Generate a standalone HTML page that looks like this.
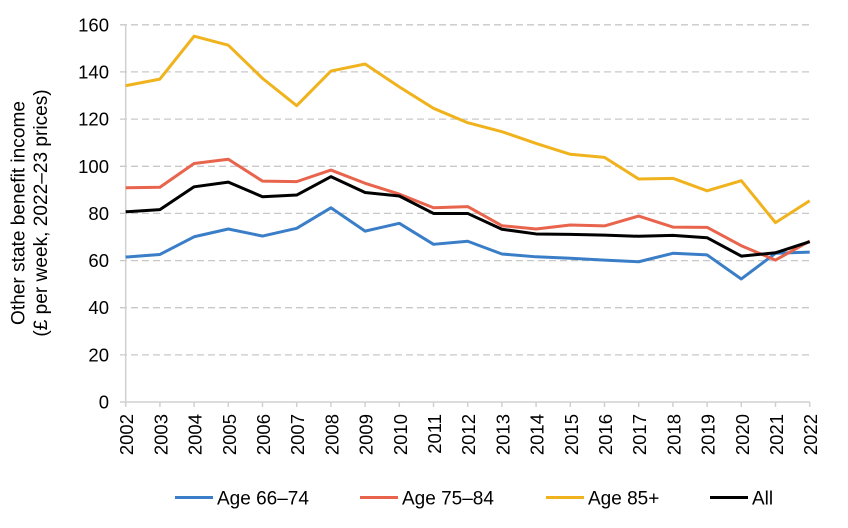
<!DOCTYPE html>
<html><head><meta charset="utf-8"><style>
html,body{margin:0;padding:0;background:#fff}
svg{display:block}
text{font-family:"Liberation Sans",Arial,sans-serif;fill:#000}
</style></head><body>
<svg width="848" height="528" viewBox="0 0 848 528" xmlns="http://www.w3.org/2000/svg">
<rect width="848" height="528" fill="#fff"/>
<!-- gridlines -->
<g stroke="#c8c8c8" stroke-width="1.3" stroke-dasharray="7,4">
<line x1="120" y1="24.8" x2="809" y2="24.8"/>
<line x1="120" y1="71.9" x2="809" y2="71.9"/>
<line x1="120" y1="119.1" x2="809" y2="119.1"/>
<line x1="120" y1="166.3" x2="809" y2="166.3"/>
<line x1="120" y1="213.4" x2="809" y2="213.4"/>
<line x1="120" y1="260.6" x2="809" y2="260.6"/>
<line x1="120" y1="307.7" x2="809" y2="307.7"/>
<line x1="120" y1="354.9" x2="809" y2="354.9"/>
</g>
<!-- axes -->
<g stroke="#d0d0d0" stroke-width="1.5">
<line x1="125.7" y1="24" x2="125.7" y2="402"/>
<line x1="120" y1="402" x2="810" y2="402"/>
<line x1="125.7" y1="402" x2="125.7" y2="407"/>
<line x1="159.9" y1="402" x2="159.9" y2="407"/>
<line x1="194.1" y1="402" x2="194.1" y2="407"/>
<line x1="228.3" y1="402" x2="228.3" y2="407"/>
<line x1="262.5" y1="402" x2="262.5" y2="407"/>
<line x1="296.7" y1="402" x2="296.7" y2="407"/>
<line x1="330.9" y1="402" x2="330.9" y2="407"/>
<line x1="365.1" y1="402" x2="365.1" y2="407"/>
<line x1="399.3" y1="402" x2="399.3" y2="407"/>
<line x1="433.5" y1="402" x2="433.5" y2="407"/>
<line x1="467.7" y1="402" x2="467.7" y2="407"/>
<line x1="501.9" y1="402" x2="501.9" y2="407"/>
<line x1="536.1" y1="402" x2="536.1" y2="407"/>
<line x1="570.3" y1="402" x2="570.3" y2="407"/>
<line x1="604.5" y1="402" x2="604.5" y2="407"/>
<line x1="638.7" y1="402" x2="638.7" y2="407"/>
<line x1="672.9" y1="402" x2="672.9" y2="407"/>
<line x1="707.1" y1="402" x2="707.1" y2="407"/>
<line x1="741.3" y1="402" x2="741.3" y2="407"/>
<line x1="775.5" y1="402" x2="775.5" y2="407"/>
<line x1="809.7" y1="402" x2="809.7" y2="407"/>
</g>
<!-- y tick labels -->
<g font-size="18.5" text-anchor="end">
<text x="109" y="31.3">160</text>
<text x="109" y="78.4">140</text>
<text x="109" y="125.6">120</text>
<text x="109" y="172.8">100</text>
<text x="109" y="219.9">80</text>
<text x="109" y="267.1">60</text>
<text x="109" y="314.2">40</text>
<text x="109" y="361.4">20</text>
<text x="109" y="408.5">0</text>
</g>
<!-- x tick labels -->
<g font-size="18.5" text-anchor="end">
<text transform="translate(133.2,414) rotate(-90)">2002</text>
<text transform="translate(167.4,414) rotate(-90)">2003</text>
<text transform="translate(201.6,414) rotate(-90)">2004</text>
<text transform="translate(235.8,414) rotate(-90)">2005</text>
<text transform="translate(270,414) rotate(-90)">2006</text>
<text transform="translate(304.2,414) rotate(-90)">2007</text>
<text transform="translate(338.4,414) rotate(-90)">2008</text>
<text transform="translate(372.6,414) rotate(-90)">2009</text>
<text transform="translate(406.8,414) rotate(-90)">2010</text>
<text transform="translate(441,414) rotate(-90)">2011</text>
<text transform="translate(475.2,414) rotate(-90)">2012</text>
<text transform="translate(509.4,414) rotate(-90)">2013</text>
<text transform="translate(543.6,414) rotate(-90)">2014</text>
<text transform="translate(577.8,414) rotate(-90)">2015</text>
<text transform="translate(612,414) rotate(-90)">2016</text>
<text transform="translate(646.2,414) rotate(-90)">2017</text>
<text transform="translate(680.4,414) rotate(-90)">2018</text>
<text transform="translate(714.6,414) rotate(-90)">2019</text>
<text transform="translate(748.8,414) rotate(-90)">2020</text>
<text transform="translate(783,414) rotate(-90)">2021</text>
<text transform="translate(817.2,414) rotate(-90)">2022</text>
</g>
<!-- y axis title -->
<g font-size="19.1" text-anchor="middle">
<text transform="translate(24.5,213) rotate(-90)">Other state benefit income</text>
<text transform="translate(47,213) rotate(-90)">(£ per week, 2022–23 prices)</text>
</g>
<!-- series -->
<g transform="translate(125.7,402) scale(34.2,-2.357)" fill="none" stroke-linejoin="round">
<polyline vector-effect="non-scaling-stroke" stroke="#3a7ec8" stroke-width="3" points="0,61.5 1,62.6 2,70.1 3,73.4 4,70.4 5,73.7 6,82.4 7,72.5 8,75.8 9,66.9 10,68.2 11,62.8 12,61.6 13,61.0 14,60.2 15,59.5 16,63.1 17,62.4 18,52.2 19,63.1 20,63.6"/>
<polyline vector-effect="non-scaling-stroke" stroke="#e8644c" stroke-width="3" points="0,90.9 1,91.1 2,101.2 3,103 4,93.7 5,93.5 6,98.4 7,92.8 8,88.2 9,82.4 10,82.9 11,74.8 12,73.4 13,75.1 14,74.7 15,78.9 16,74.2 17,74.1 18,66.3 19,60.2 20,68.3"/>
<polyline vector-effect="non-scaling-stroke" stroke="#f0b31e" stroke-width="3" points="0,134.2 1,137 2,155.2 3,151.4 4,137.3 5,125.7 6,140.4 7,143.4 8,133.7 9,124.6 10,118.5 11,114.7 12,109.7 13,105.1 14,103.8 15,94.6 16,94.9 17,89.6 18,93.9 19,76.1 20,85.4"/>
<polyline vector-effect="non-scaling-stroke" stroke="#000" stroke-width="3" points="0,80.7 1,81.6 2,91.3 3,93.3 4,87.1 5,87.8 6,95.6 7,88.9 8,87.4 9,80.0 10,80.0 11,73.3 12,71.3 13,71.1 14,70.8 15,70.3 16,70.7 17,69.7 18,61.9 19,63.3 20,68.0"/>
</g>
<!-- legend -->
<g stroke-width="3">
<line x1="175" y1="497.5" x2="213" y2="497.5" stroke="#3a7ec8"/>
<line x1="360" y1="497.5" x2="398" y2="497.5" stroke="#e8644c"/>
<line x1="546" y1="497.5" x2="584" y2="497.5" stroke="#f0b31e"/>
<line x1="710" y1="497.5" x2="748" y2="497.5" stroke="#000"/>
</g>
<g font-size="19">
<text x="217" y="504.3">Age 66–74</text>
<text x="402" y="504.3">Age 75–84</text>
<text x="588" y="504.3">Age 85+</text>
<text x="752" y="504.3">All</text>
</g>
</svg>
</body></html>
